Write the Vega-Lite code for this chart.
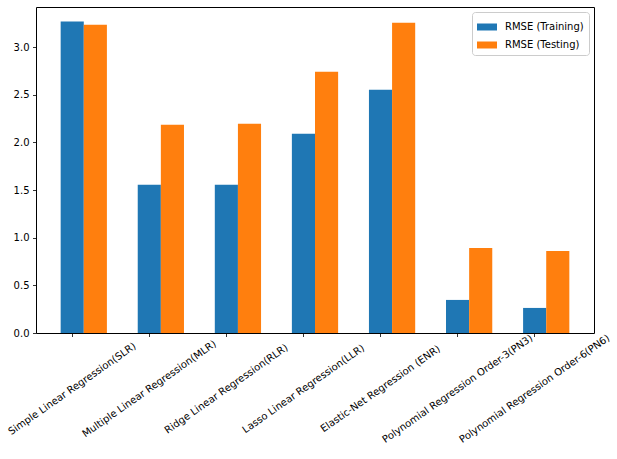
{
  "$schema": "https://vega.github.io/schema/vega-lite/v6.json",
  "autosize": {"type": "none"},
  "padding": {"left": 36, "top": 7, "right": 23, "bottom": 126},
  "width": 558,
  "height": 326,
  "config": {
    "font": "DejaVu Sans",
    "view": {"stroke": "black", "strokeWidth": 1},
    "axis": {"grid": false, "domainColor": "black", "tickColor": "black", "labelColor": "black", "labelFont": "DejaVu Sans", "labelFontSize": 10, "tickSize": 3.5, "domainWidth": 1, "tickWidth": 0.8, "labelLimit": 0}
  },
  "data": {
    "values": [
      {"model": "Simple Linear Regression(SLR)", "series": "RMSE (Training)", "rmse": 3.267},
      {"model": "Simple Linear Regression(SLR)", "series": "RMSE (Testing)", "rmse": 3.235},
      {"model": "Multiple Linear Regression(MLR)", "series": "RMSE (Training)", "rmse": 1.555},
      {"model": "Multiple Linear Regression(MLR)", "series": "RMSE (Testing)", "rmse": 2.185},
      {"model": "Ridge Linear Regression(RLR)", "series": "RMSE (Training)", "rmse": 1.555},
      {"model": "Ridge Linear Regression(RLR)", "series": "RMSE (Testing)", "rmse": 2.195},
      {"model": "Lasso Linear Regression(LLR)", "series": "RMSE (Training)", "rmse": 2.09},
      {"model": "Lasso Linear Regression(LLR)", "series": "RMSE (Testing)", "rmse": 2.742},
      {"model": "Elastic-Net Regression (ENR)", "series": "RMSE (Training)", "rmse": 2.553},
      {"model": "Elastic-Net Regression (ENR)", "series": "RMSE (Testing)", "rmse": 3.256},
      {"model": "Polynomial Regression Order-3(PN3)", "series": "RMSE (Training)", "rmse": 0.347},
      {"model": "Polynomial Regression Order-3(PN3)", "series": "RMSE (Testing)", "rmse": 0.893},
      {"model": "Polynomial Regression Order-6(PN6)", "series": "RMSE (Training)", "rmse": 0.263},
      {"model": "Polynomial Regression Order-6(PN6)", "series": "RMSE (Testing)", "rmse": 0.861}
    ]
  },
  "mark": {"type": "bar"},
  "encoding": {
    "x": {
      "field": "model", "type": "nominal", "sort": null, "title": null,
      "scale": {"paddingInner": 0.4, "paddingOuter": 0.32},
      "axis": {"bandPosition": 0.25, "labelAngle": -35, "labelAlign": "center", "labelBaseline": "middle", "labelPadding": 52, "labelOffset": -11.5, "labelLimit": 0, "labelFontSize": 10, "domain": false}
    },
    "xOffset": {
      "field": "series", "type": "nominal", "sort": ["RMSE (Training)", "RMSE (Testing)"],
      "scale": {"paddingInner": 0, "paddingOuter": 0}
    },
    "y": {
      "field": "rmse", "type": "quantitative", "title": null,
      "scale": {"domain": [0, 3.42], "nice": false, "zero": true},
      "axis": {"values": [0, 0.5, 1, 1.5, 2, 2.5, 3], "format": ".1f", "labelPadding": 3.5, "domain": false}
    },
    "color": {
      "field": "series", "type": "nominal", "title": null,
      "scale": {"domain": ["RMSE (Training)", "RMSE (Testing)"], "range": ["#1f77b4", "#ff7f0e"]},
      "legend": {
        "orient": "top-right", "offset": 5, "padding": 5,
        "fillColor": "rgba(255,255,255,0.8)", "strokeColor": "#cccccc", "cornerRadius": 3,
        "symbolType": "M-1,-0.35L1,-0.35L1,0.35L-1,0.35Z", "symbolSize": 400, "symbolStrokeWidth": 0, "symbolOpacity": 1,
        "labelFontSize": 10, "labelFont": "DejaVu Sans", "labelColor": "black", "labelOffset": 8, "rowPadding": 3
      }
    }
  }
}
